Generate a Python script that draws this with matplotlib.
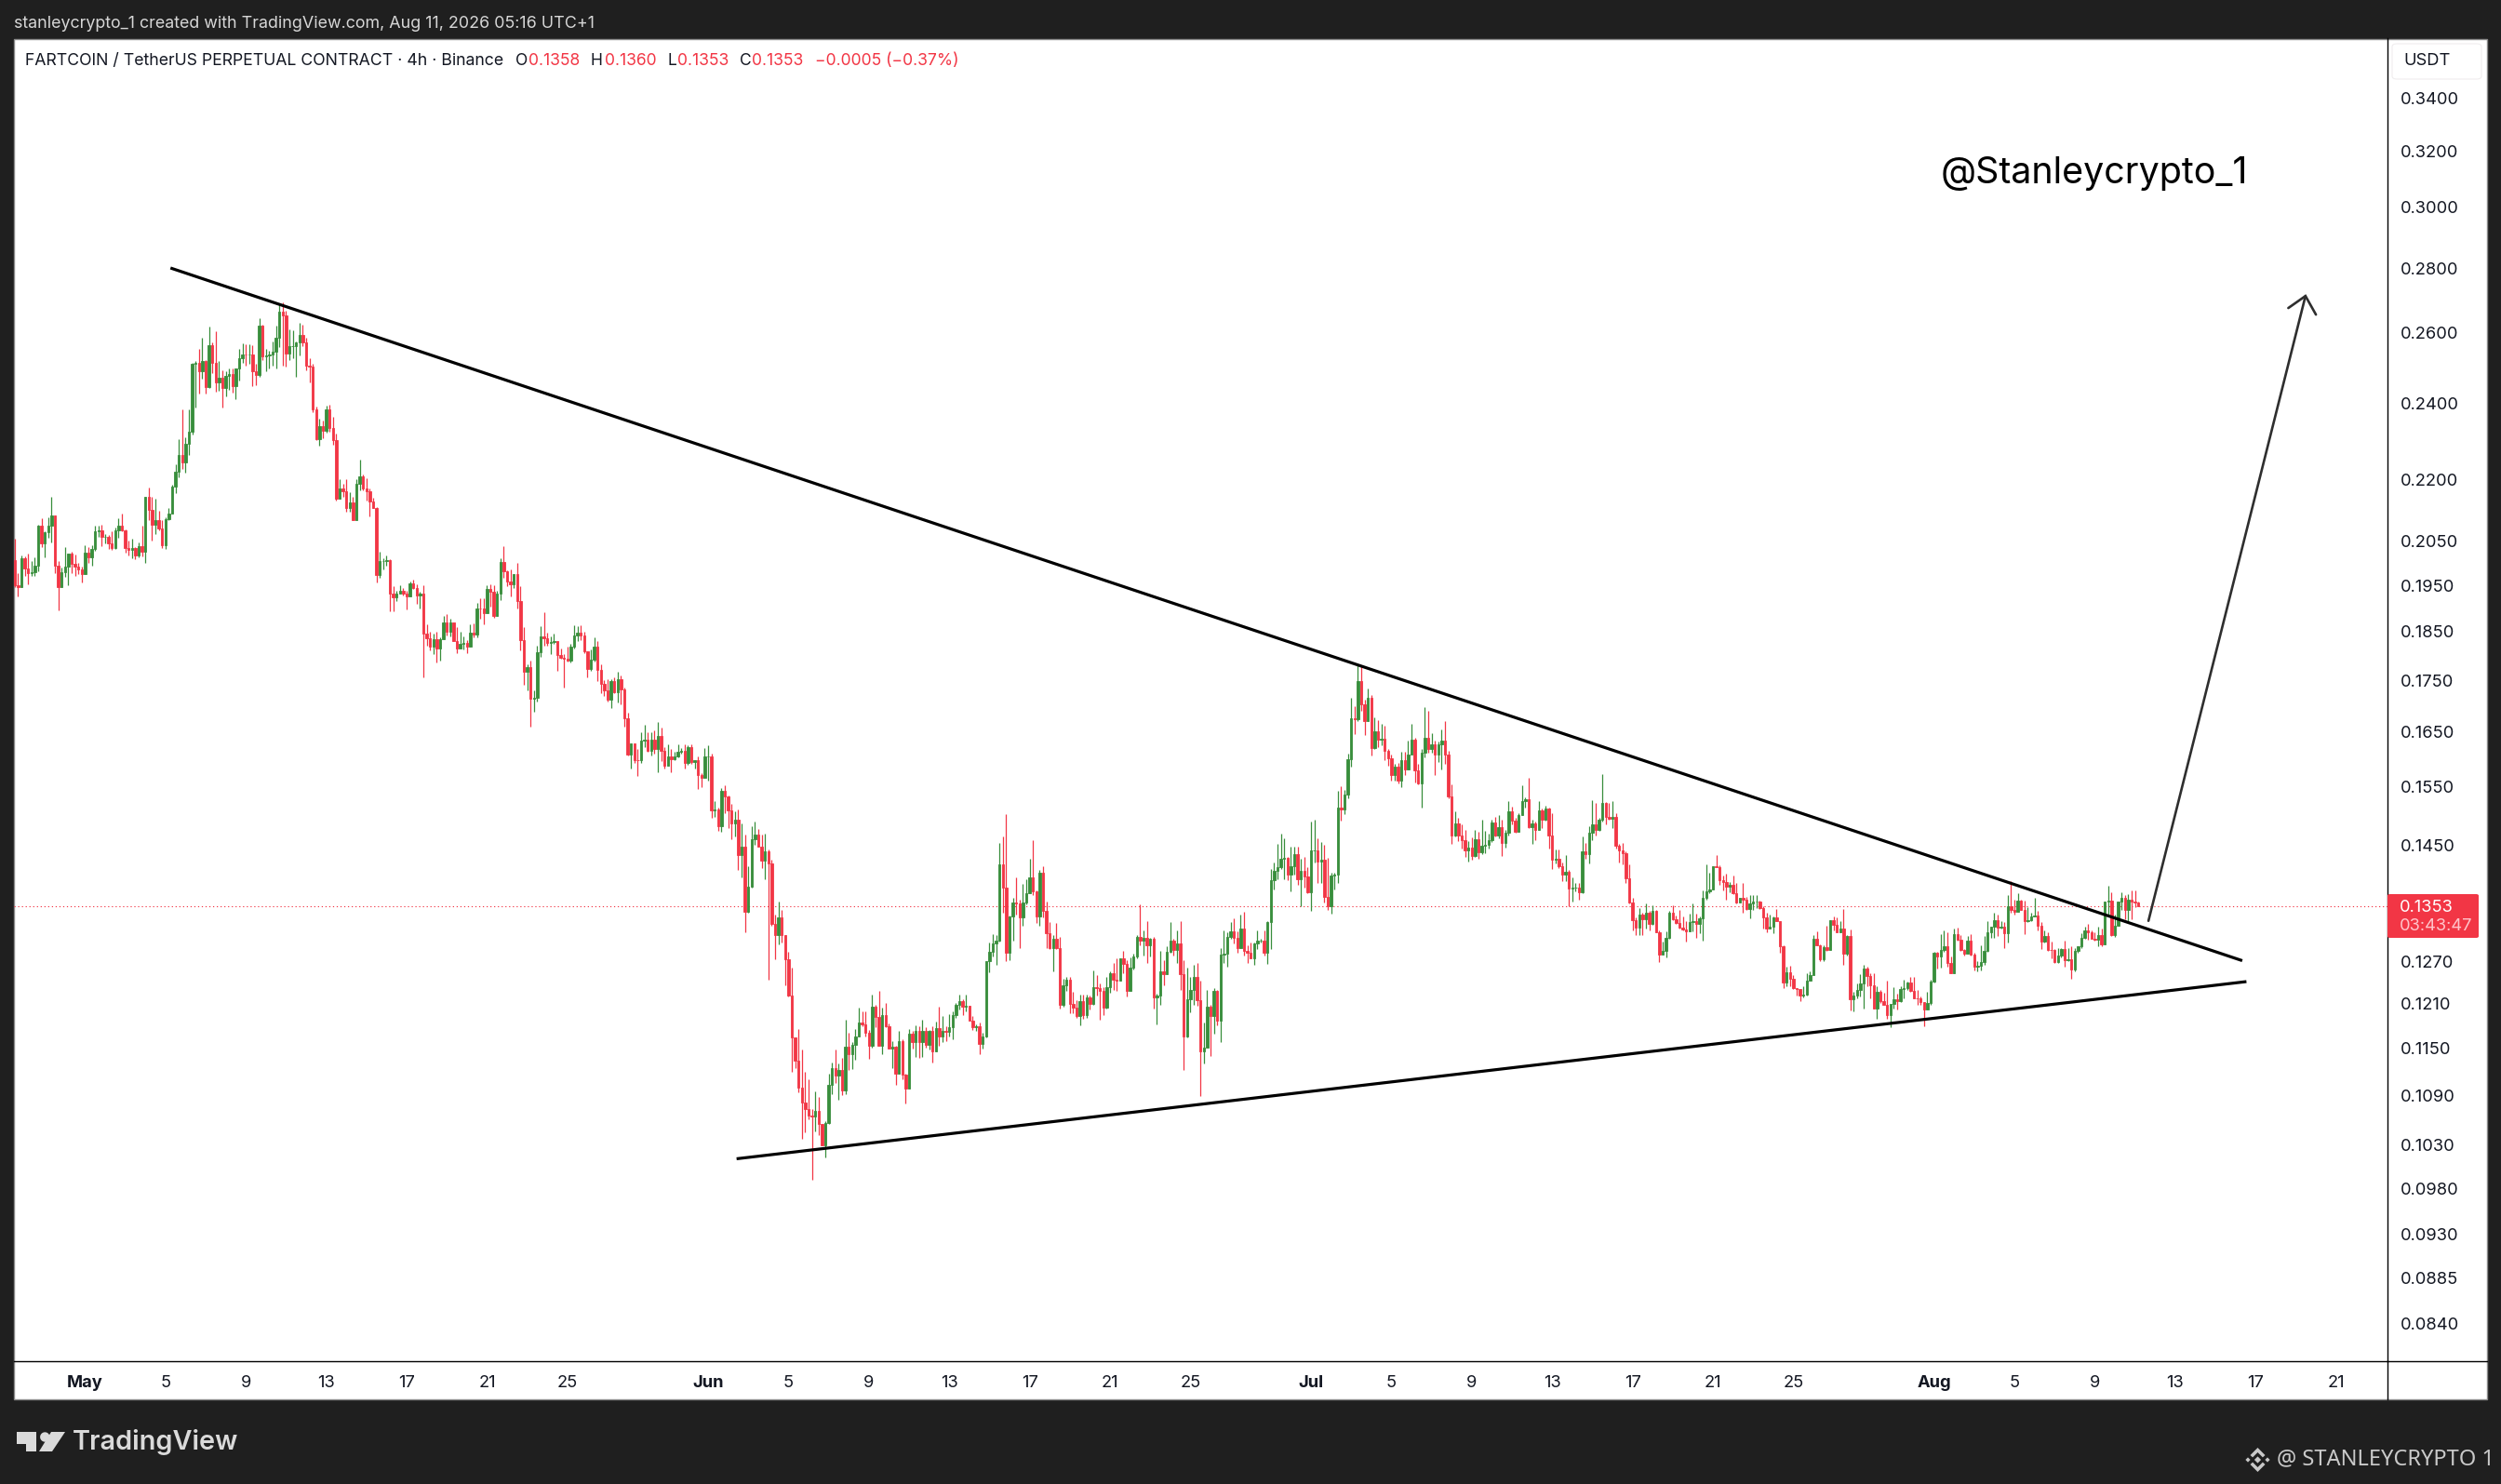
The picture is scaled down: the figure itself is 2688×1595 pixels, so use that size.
import matplotlib
matplotlib.use("Agg")
import matplotlib.pyplot as plt
import matplotlib.dates as mdates
from matplotlib.patches import Rectangle, Polygon, FancyBboxPatch
from matplotlib.ticker import FixedLocator, NullLocator, FixedFormatter
import numpy as np
import pandas as pd

W, H = 2688, 1595
DPI = 200

# 4h candles, prices in units of 0.0001 USDT
FIRST_OPEN = 2006
CLOSE = [
1950,1945,2010,1987,1977,1980,1995,2088,2046,2071,2088,2112,1994,1946,1979,1991,2021,1998,1991,1985,
1976,2023,2014,2032,2073,2076,2060,2061,2046,2034,2077,2086,2076,2034,2030,2035,2017,2040,2026,2157,
2125,2090,2100,2081,2042,2102,2116,2182,2220,2262,2244,2292,2322,2511,2512,2489,2518,2444,2565,2513,
2457,2470,2441,2475,2482,2448,2496,2527,2538,2536,2538,2489,2478,2621,2531,2533,2538,2544,2586,2663,
2653,2540,2560,2561,2571,2595,2572,2504,2503,2384,2303,2337,2326,2382,2334,2301,2152,2177,2171,2130,
2143,2100,2190,2207,2177,2170,2146,2130,1974,2004,2005,2007,1931,1924,1931,1937,1931,1926,1954,1944,
1928,1931,1845,1836,1819,1834,1814,1833,1869,1849,1870,1829,1814,1824,1825,1819,1847,1843,1900,1899,
1890,1942,1935,1884,1931,2003,1981,1959,1952,1976,1915,1832,1767,1776,1714,1715,1807,1839,1835,1826,
1828,1830,1800,1796,1794,1790,1818,1842,1847,1842,1809,1772,1791,1818,1770,1743,1730,1711,1749,1727,
1752,1731,1675,1608,1629,1598,1597,1633,1635,1614,1636,1618,1642,1615,1587,1605,1600,1605,1612,1614,
1593,1621,1594,1598,1570,1566,1604,1605,1509,1510,1481,1543,1533,1509,1487,1493,1433,1447,1344,1383,
1459,1467,1448,1424,1440,1420,1325,1309,1335,1308,1273,1221,1165,1134,1100,1081,1073,1065,1064,1071,
1055,1030,1056,1103,1125,1115,1122,1096,1152,1143,1155,1166,1185,1182,1171,1153,1206,1192,1153,1195,
1179,1150,1152,1117,1159,1116,1098,1169,1158,1173,1158,1173,1155,1173,1146,1177,1166,1173,1172,1178,
1194,1208,1214,1206,1207,1187,1178,1179,1156,1166,1270,1284,1296,1300,1419,1382,1282,1337,1358,1357,
1335,1358,1372,1397,1376,1337,1405,1345,1312,1290,1303,1290,1208,1236,1244,1210,1205,1193,1214,1194,
1219,1210,1233,1232,1228,1205,1233,1253,1243,1242,1274,1266,1228,1261,1277,1306,1300,1304,1293,1303,
1219,1222,1256,1252,1284,1300,1286,1296,1252,1166,1216,1229,1248,1215,1146,1151,1206,1193,1228,1187,
1280,1281,1306,1314,1305,1290,1319,1285,1282,1275,1296,1300,1301,1282,1328,1393,1408,1414,1427,1429,
1402,1416,1435,1395,1408,1399,1374,1441,1442,1423,1426,1367,1352,1401,1402,1513,1510,1536,1600,1676,
1673,1748,1703,1671,1716,1620,1651,1636,1637,1614,1601,1570,1586,1561,1597,1581,1608,1635,1579,1555,
1611,1639,1618,1626,1608,1626,1634,1608,1533,1466,1486,1466,1458,1442,1446,1432,1459,1438,1449,1450,
1458,1488,1466,1480,1454,1470,1507,1491,1472,1501,1525,1528,1480,1486,1475,1509,1492,1512,1466,1426,
1427,1416,1402,1406,1380,1381,1382,1374,1440,1435,1471,1485,1475,1492,1521,1497,1494,1498,1449,1442,
1437,1396,1358,1331,1320,1340,1332,1343,1325,1345,1313,1280,1285,1304,1342,1332,1327,1320,1317,1314,
1328,1329,1325,1334,1366,1375,1379,1415,1414,1393,1390,1383,1386,1373,1358,1365,1363,1348,1356,1359,
1360,1350,1335,1319,1321,1335,1329,1292,1240,1254,1245,1232,1230,1221,1223,1242,1250,1303,1293,1273,
1291,1286,1331,1324,1313,1318,1281,1307,1216,1221,1229,1239,1260,1249,1236,1203,1227,1214,1208,1195,
1210,1216,1214,1231,1232,1240,1228,1218,1217,1212,1202,1211,1241,1283,1277,1286,1292,1267,1253,1310,
1302,1286,1281,1300,1280,1262,1263,1269,1285,1313,1321,1331,1320,1321,1312,1353,1346,1344,1361,1347,
1330,1331,1337,1338,1323,1299,1307,1287,1286,1269,1278,1288,1272,1273,1258,1285,1292,1304,1316,1313,
1303,1302,1309,1295,1360,1361,1309,1323,1359,1366,1347,1362,1360,1358,1353,
]
HIGH = [
2057,1977,2018,2016,2022,2004,2014,2090,2106,2073,2108,2157,2112,2004,1990,2036,2021,2026,2019,2001,
1991,2041,2036,2041,2086,2088,2090,2068,2066,2074,2083,2104,2115,2079,2052,2057,2037,2048,2088,2158,
2179,2157,2152,2122,2100,2108,2130,2187,2238,2303,2382,2308,2382,2513,2518,2554,2586,2520,2618,2572,
2604,2518,2492,2489,2498,2498,2496,2554,2569,2567,2567,2563,2511,2643,2624,2552,2547,2574,2621,2689,
2692,2668,2610,2607,2574,2630,2624,2587,2527,2511,2390,2359,2354,2392,2397,2363,2318,2201,2189,2201,
2168,2157,2201,2250,2212,2203,2177,2154,2132,2026,2010,2018,2008,1948,1937,1950,1944,1937,1958,1962,
1952,1935,1950,1866,1850,1845,1850,1838,1883,1888,1878,1870,1860,1850,1840,1832,1866,1867,1912,1922,
1922,1950,1952,1950,1937,2010,2038,1983,1985,1976,2001,1948,1860,1782,1789,1730,1820,1862,1892,1848,
1840,1845,1830,1814,1803,1818,1824,1864,1862,1864,1850,1809,1812,1838,1830,1781,1750,1752,1752,1756,
1767,1760,1736,1686,1629,1629,1618,1650,1664,1649,1649,1652,1669,1658,1622,1627,1618,1612,1626,1620,
1626,1625,1626,1598,1604,1574,1620,1625,1610,1524,1513,1548,1552,1535,1520,1507,1510,1486,1468,1416,
1481,1489,1477,1467,1469,1443,1426,1339,1360,1346,1309,1284,1261,1165,1176,1149,1120,1110,1073,1095,
1088,1055,1058,1117,1132,1149,1130,1138,1188,1171,1158,1176,1205,1200,1199,1175,1223,1208,1228,1205,
1211,1183,1160,1153,1173,1162,1117,1176,1173,1181,1179,1188,1178,1175,1180,1186,1206,1193,1179,1196,
1200,1211,1223,1216,1223,1207,1193,1182,1185,1171,1270,1298,1310,1309,1453,1464,1502,1338,1365,1397,
1362,1387,1395,1427,1458,1377,1410,1416,1360,1328,1309,1327,1306,1245,1248,1247,1226,1215,1223,1223,
1223,1221,1257,1250,1239,1233,1247,1256,1268,1275,1275,1285,1272,1276,1281,1309,1355,1316,1330,1305,
1306,1224,1285,1272,1292,1328,1303,1316,1329,1272,1261,1247,1265,1268,1242,1185,1229,1208,1232,1229,
1290,1316,1313,1328,1334,1314,1340,1344,1293,1297,1297,1316,1303,1316,1329,1411,1421,1452,1469,1462,
1430,1448,1447,1448,1427,1431,1414,1489,1493,1461,1455,1451,1429,1405,1405,1542,1551,1544,1609,1715,
1698,1782,1780,1712,1734,1721,1678,1672,1665,1661,1618,1608,1591,1592,1613,1613,1634,1665,1639,1591,
1618,1697,1690,1647,1634,1632,1654,1670,1614,1554,1507,1495,1484,1476,1456,1463,1476,1472,1492,1473,
1469,1492,1497,1500,1492,1476,1525,1515,1495,1504,1552,1531,1565,1492,1490,1524,1512,1516,1514,1504,
1443,1443,1421,1433,1409,1398,1388,1388,1464,1453,1481,1527,1521,1496,1573,1523,1521,1525,1504,1452,
1453,1440,1418,1365,1335,1349,1343,1356,1345,1354,1347,1316,1299,1314,1345,1354,1338,1347,1337,1329,
1341,1356,1341,1336,1377,1418,1405,1416,1433,1417,1400,1403,1390,1400,1388,1365,1388,1367,1369,1370,
1370,1361,1352,1342,1339,1337,1348,1330,1293,1262,1263,1250,1232,1231,1235,1253,1256,1308,1314,1295,
1293,1323,1331,1337,1335,1329,1348,1309,1317,1226,1238,1251,1265,1262,1253,1253,1234,1229,1225,1242,
1210,1233,1224,1234,1244,1241,1248,1247,1229,1220,1213,1227,1244,1284,1284,1310,1316,1313,1277,1318,
1320,1308,1288,1307,1310,1283,1271,1294,1307,1330,1321,1343,1340,1330,1328,1369,1392,1363,1372,1363,
1361,1351,1343,1366,1345,1328,1316,1313,1299,1288,1290,1289,1300,1290,1292,1289,1292,1312,1321,1325,
1315,1313,1321,1318,1360,1384,1374,1339,1360,1374,1370,1371,1377,1377,1360,
]
LOW = [
1946,1925,1948,1970,1953,1970,1970,1981,2037,2014,2059,2048,1977,1895,1946,1969,1950,1977,1971,1976,
1957,1977,2001,1994,2028,2061,2040,2046,2032,2030,2032,2059,2074,2023,2017,2012,2008,2014,2016,2001,
2101,2052,2068,2076,2034,2032,2100,2115,2166,2206,2227,2218,2263,2316,2388,2426,2467,2426,2443,2485,
2431,2433,2388,2420,2437,2428,2410,2462,2513,2506,2510,2448,2451,2472,2520,2488,2496,2504,2498,2559,
2504,2501,2520,2525,2472,2533,2561,2491,2457,2376,2301,2286,2306,2321,2322,2288,2147,2152,2157,2120,
2121,2100,2102,2174,2174,2147,2109,2130,1957,1967,1985,1995,1893,1893,1915,1931,1928,1898,1926,1941,
1910,1900,1756,1820,1810,1803,1785,1789,1833,1841,1840,1829,1805,1814,1812,1805,1819,1838,1838,1877,
1865,1890,1903,1880,1885,1917,1966,1948,1925,1944,1899,1810,1740,1730,1660,1688,1707,1798,1820,1820,
1803,1824,1768,1793,1735,1788,1786,1815,1829,1832,1804,1756,1768,1788,1748,1725,1718,1708,1695,1725,
1706,1702,1660,1606,1583,1593,1569,1592,1621,1612,1606,1609,1575,1596,1582,1587,1575,1597,1602,1610,
1583,1589,1590,1583,1545,1549,1568,1561,1496,1497,1473,1472,1503,1478,1460,1465,1410,1397,1313,1342,
1381,1451,1448,1413,1394,1244,1323,1273,1295,1298,1236,1220,1120,1125,1094,1037,1045,1061,990,1046,
1042,1030,1016,1055,1092,1105,1085,1090,1092,1122,1123,1135,1166,1179,1166,1136,1151,1178,1153,1142,
1178,1150,1124,1103,1117,1110,1080,1098,1150,1139,1138,1139,1151,1149,1132,1146,1154,1158,1159,1166,
1162,1191,1202,1194,1199,1187,1174,1173,1143,1150,1165,1254,1277,1265,1299,1343,1270,1272,1300,1339,
1289,1322,1355,1373,1369,1327,1322,1335,1289,1288,1256,1288,1203,1206,1228,1197,1197,1191,1181,1189,
1191,1202,1209,1222,1188,1195,1204,1225,1229,1228,1242,1253,1220,1228,1258,1274,1294,1279,1267,1277,
1203,1182,1209,1236,1252,1283,1279,1267,1229,1122,1165,1198,1208,1207,1089,1130,1151,1140,1169,1181,
1158,1268,1262,1303,1296,1282,1290,1279,1268,1274,1265,1288,1298,1279,1266,1288,1379,1395,1411,1395,
1393,1376,1402,1386,1352,1382,1373,1345,1422,1389,1389,1358,1347,1341,1379,1388,1491,1502,1529,1585,
1646,1670,1689,1644,1671,1606,1618,1622,1625,1598,1587,1561,1561,1555,1549,1570,1581,1608,1558,1554,
1514,1602,1611,1611,1571,1594,1581,1590,1530,1452,1465,1456,1445,1431,1423,1426,1431,1428,1435,1436,
1444,1455,1465,1462,1432,1446,1466,1484,1471,1472,1500,1514,1479,1452,1458,1475,1478,1491,1445,1411,
1420,1413,1392,1391,1352,1359,1376,1363,1372,1428,1420,1458,1466,1474,1489,1484,1492,1478,1445,1422,
1419,1388,1357,1315,1308,1308,1308,1319,1316,1324,1313,1269,1280,1276,1303,1331,1325,1319,1316,1299,
1314,1314,1305,1311,1300,1363,1373,1379,1414,1386,1377,1362,1374,1371,1357,1358,1343,1347,1334,1346,
1349,1348,1319,1313,1319,1311,1329,1283,1232,1234,1235,1231,1222,1214,1219,1222,1242,1250,1293,1270,
1270,1285,1286,1316,1313,1313,1265,1279,1201,1199,1217,1220,1204,1234,1217,1203,1189,1211,1208,1189,
1178,1204,1202,1213,1217,1229,1227,1217,1209,1208,1180,1204,1209,1240,1259,1261,1284,1262,1253,1253,
1301,1285,1279,1281,1279,1257,1255,1257,1265,1284,1305,1305,1307,1319,1289,1297,1342,1340,1344,1346,
1310,1328,1329,1337,1316,1288,1298,1285,1275,1267,1267,1276,1262,1270,1245,1255,1283,1289,1303,1302,
1303,1300,1292,1292,1295,1339,1307,1306,1332,1346,1332,1330,1332,1351,1353,
]
FIRST_BAR = "2026-04-27 12:00"

PRICE_TICKS = [0.3400,0.3200,0.3000,0.2800,0.2600,0.2400,0.2200,0.2050,0.1950,0.1850,0.1750,0.1650,
               0.1550,0.1450,0.1270,0.1210,0.1150,0.1090,0.1030,0.0980,0.0930,0.0885,0.0840]
DATE_TICKS = ["2026-05-01","2026-05-05","2026-05-09","2026-05-13","2026-05-17","2026-05-21","2026-05-25",
              "2026-06-01","2026-06-05","2026-06-09","2026-06-13","2026-06-17","2026-06-21","2026-06-25",
              "2026-07-01","2026-07-05","2026-07-09","2026-07-13","2026-07-17","2026-07-21","2026-07-25",
              "2026-08-01","2026-08-05","2026-08-09","2026-08-13","2026-08-17","2026-08-21"]
DATE_LABELS = ["May","5","9","13","17","21","25","Jun","5","9","13","17","21","25",
               "Jul","5","9","13","17","21","25","Aug","5","9","13","17","21"]
LAST_PRICE = 0.1353
# drawings: (date, price) anchors
DOWN_LINE = (("2026-05-05 06:00", 0.2800), ("2026-08-16 08:00", 0.1271))
UP_LINE = (("2026-06-02 10:00", 0.1014), ("2026-08-16 13:00", 0.1241))
ARROW_SHAFT = (("2026-08-11 16:00", 0.1330), ("2026-08-19 11:30", 0.2712))
ARROW_WING_L = ("2026-08-18 15:00", 0.2675)
ARROW_WING_R = ("2026-08-20 00:00", 0.2655)

GREEN, RED = "#388E3C", "#F23645"
BG = "#1F1F1F"
FONT = "Inter"
INK = "#131722"
plt.rcParams["font.family"] = [FONT, "DejaVu Sans"]
plt.rcParams["lines.scale_dashes"] = False

fig = plt.figure(figsize=(W / DPI, H / DPI), dpi=DPI, facecolor=BG)

def fx(x): return x / W
def fy(y): return 1 - y / H
def ftext(x, y, s, size, color, ha="left", va="center", **kw):
    return fig.text(fx(x), fy(y), s, fontsize=size, color=color, ha=ha, va=va, **kw)
def fpoly(pts, color, z=5):
    fig.add_artist(Polygon([(fx(a), fy(b)) for a, b in pts], closed=True, transform=fig.transFigure,
                           facecolor=color, edgecolor="none", zorder=z))

# frame
fig.add_artist(Rectangle((fx(15.4), fy(1504)), fx(2673 - 15.4), fy(41.5) - fy(1504), transform=fig.transFigure,
                         facecolor="white", edgecolor="#8a8a8a", linewidth=0.5, zorder=0))

L_, R_, T_, B_ = 15.4, 2566, 41.5, 1463
ax = fig.add_axes([fx(L_), fy(B_), fx(R_ - L_), fy(T_) - fy(B_)], facecolor="none", zorder=2)
ax.set_yscale("log")
base = mdates.date2num(pd.Timestamp("2026-05-01"))
ax.set_xlim(base - 3.52, base + 114.56)
ax.set_ylim(0.0805, 0.3637)

def d(s): return mdates.date2num(pd.Timestamp(s))

close = np.array(CLOSE) / 1e4
high = np.array(HIGH) / 1e4
low = np.array(LOW) / 1e4
opn = np.r_[FIRST_OPEN / 1e4, close[:-1]]
x = mdates.date2num(pd.date_range(FIRST_BAR, periods=len(close), freq="4h"))
cols = np.where(close >= opn, GREEN, RED)

ax.axhline(LAST_PRICE, color=RED, lw=0.4, linestyle=(0, (0.45, 1.0)), zorder=1)
ax.vlines(x, np.minimum(low, np.minimum(opn, close)), np.maximum(high, np.maximum(opn, close)),
          colors=cols, linewidth=0.45, zorder=2)
ax.bar(x, np.abs(close - opn), bottom=np.minimum(close, opn), width=2.4 / 21.6, color=cols,
       edgecolor=cols, linewidth=0.3, zorder=3)

for (a, pa), (b, pb) in (DOWN_LINE, UP_LINE):
    ax.plot([d(a), d(b)], [pa, pb], color="black", lw=1.15, solid_capstyle="butt", zorder=5)
(a, pa), (b, pb) = ARROW_SHAFT
ax.plot([d(a), d(b)], [pa, pb], color="#2E2E2E", lw=0.95, solid_capstyle="round", zorder=5)
ax.plot([d(ARROW_WING_L[0]), d(b), d(ARROW_WING_R[0])], [ARROW_WING_L[1], pb, ARROW_WING_R[1]],
        color="#2E2E2E", lw=0.95, solid_capstyle="round", solid_joinstyle="miter", zorder=5)

# axes
for s in ("top", "left"):
    ax.spines[s].set_visible(False)
for s in ("right", "bottom"):
    ax.spines[s].set_linewidth(0.5)
    ax.spines[s].set_color("black")
ax.yaxis.tick_right()
ax.yaxis.set_major_locator(FixedLocator(PRICE_TICKS))
ax.yaxis.set_major_formatter(FixedFormatter([f"{p:.4f}" for p in PRICE_TICKS]))
ax.yaxis.set_minor_locator(NullLocator())
ax.tick_params(axis="y", which="both", length=0, pad=4.9, labelsize=6.6, labelcolor=INK)
ax.set_xticks([d(s) for s in DATE_TICKS])
ax.set_xticklabels(DATE_LABELS)
ax.tick_params(axis="x", which="both", length=0, pad=5.5, labelsize=6.6, labelcolor=INK)
for t, s in zip(ax.get_xticklabels(), DATE_LABELS):
    if s in ("May", "Jun", "Jul", "Aug"):
        t.set_fontweight("bold")

# divider continues through the time-axis row
fig.add_artist(plt.Line2D([fx(2566), fx(2566)], [fy(1463), fy(1504)], color="black", lw=0.5,
                          transform=fig.transFigure, zorder=1))
# time-axis rule continues under the price scale
fig.add_artist(plt.Line2D([fx(2566), fx(2673)], [fy(1463), fy(1463)], color="black", lw=0.5,
                          transform=fig.transFigure, zorder=1))

# currency button
fig.add_artist(FancyBboxPatch((fx(2571), fy(85)), fx(96), fy(47) - fy(85), transform=fig.transFigure,
                              boxstyle="round,pad=0,rounding_size=0.002", facecolor="white",
                              edgecolor="#F0EDEE", linewidth=0.4, zorder=1))

# price tag
fig.add_artist(FancyBboxPatch((fx(2566), fy(1008)), fx(98), fy(961) - fy(1008), transform=fig.transFigure,
                              boxstyle="round,pad=0,rounding_size=0.001", facecolor=RED, edgecolor="none", zorder=6))
ftext(2579, 975.5, "0.1353", 6.6, "white", zorder=7)
ftext(2579, 996, "03:43:47", 6.6, "#FFC4CA", zorder=7)
ftext(2609, 65, "USDT", 6.6, INK, ha="center", zorder=7)

# top line and legend
ftext(15.4, 25, "stanleycrypto_1 created with TradingView.com, Aug 11, 2026 05:16 UTC+1", 6.45, "#D6D6D6", zorder=7)
ly = 65.5
ftext(26.7, ly, "FARTCOIN / TetherUS PERPETUAL CONTRACT · 4h · Binance", 6.37, INK, zorder=7)
for xp, s, c in ((554, "O", INK), (568, "0.1358", RED), (635, "H", INK), (650, "0.1360", RED),
                 (717, "L", INK), (728, "0.1353", RED), (795, "C", INK), (808, "0.1353", RED),
                 (876, "−0.0005 (−0.37%)", RED)):
    ftext(xp, ly, s, 6.3, c, zorder=7)

ftext(2086, 186.5, "@Stanleycrypto_1", 14.2, "black", zorder=7)

# footer: TradingView mark
LOGO = "#DADADA"
fpoly([(18, 1539), (39, 1539), (39, 1560), (27.5, 1560), (27.5, 1551.5), (18, 1551.5)], LOGO)
th = np.linspace(0, 2 * np.pi, 30)
fpoly(list(zip(48.3 + 5.2 * np.cos(th), 1544.5 + 5.2 * np.sin(th))), LOGO)
fpoly([(55, 1539), (70, 1539), (56, 1560), (42, 1560)], LOGO)
ftext(77.5, 1550, "TradingView", 10.4, LOGO, fontweight="semibold", zorder=7)

# footer: exchange mark and watermark
WM = "#C9C9C9"
cx, cy = 2426.5, 1569
for dx, dy, r in ((0, 0, 3.6), (-10.5, 0, 2.6), (10.5, 0, 2.6)):
    fpoly([(cx + dx - r, cy + dy), (cx + dx, cy + dy - r), (cx + dx + r, cy + dy), (cx + dx, cy + dy + r)], WM)
fpoly([(cx, cy - 13), (cx + 8, cy - 5), (cx + 5.4, cy - 2.6), (cx, cy - 8), (cx - 5.4, cy - 2.6), (cx - 8, cy - 5)], WM)
fpoly([(cx, cy + 13), (cx + 8, cy + 5), (cx + 5.4, cy + 2.6), (cx, cy + 8), (cx - 5.4, cy + 2.6), (cx - 8, cy + 5)], WM)
ftext(2446.7, 1568, "@ STANLEYCRYPTO 1", 8.5, WM, family=["Noto Sans", "DejaVu Sans"], zorder=7)

fig.savefig("out.png", dpi=DPI, facecolor=BG)
